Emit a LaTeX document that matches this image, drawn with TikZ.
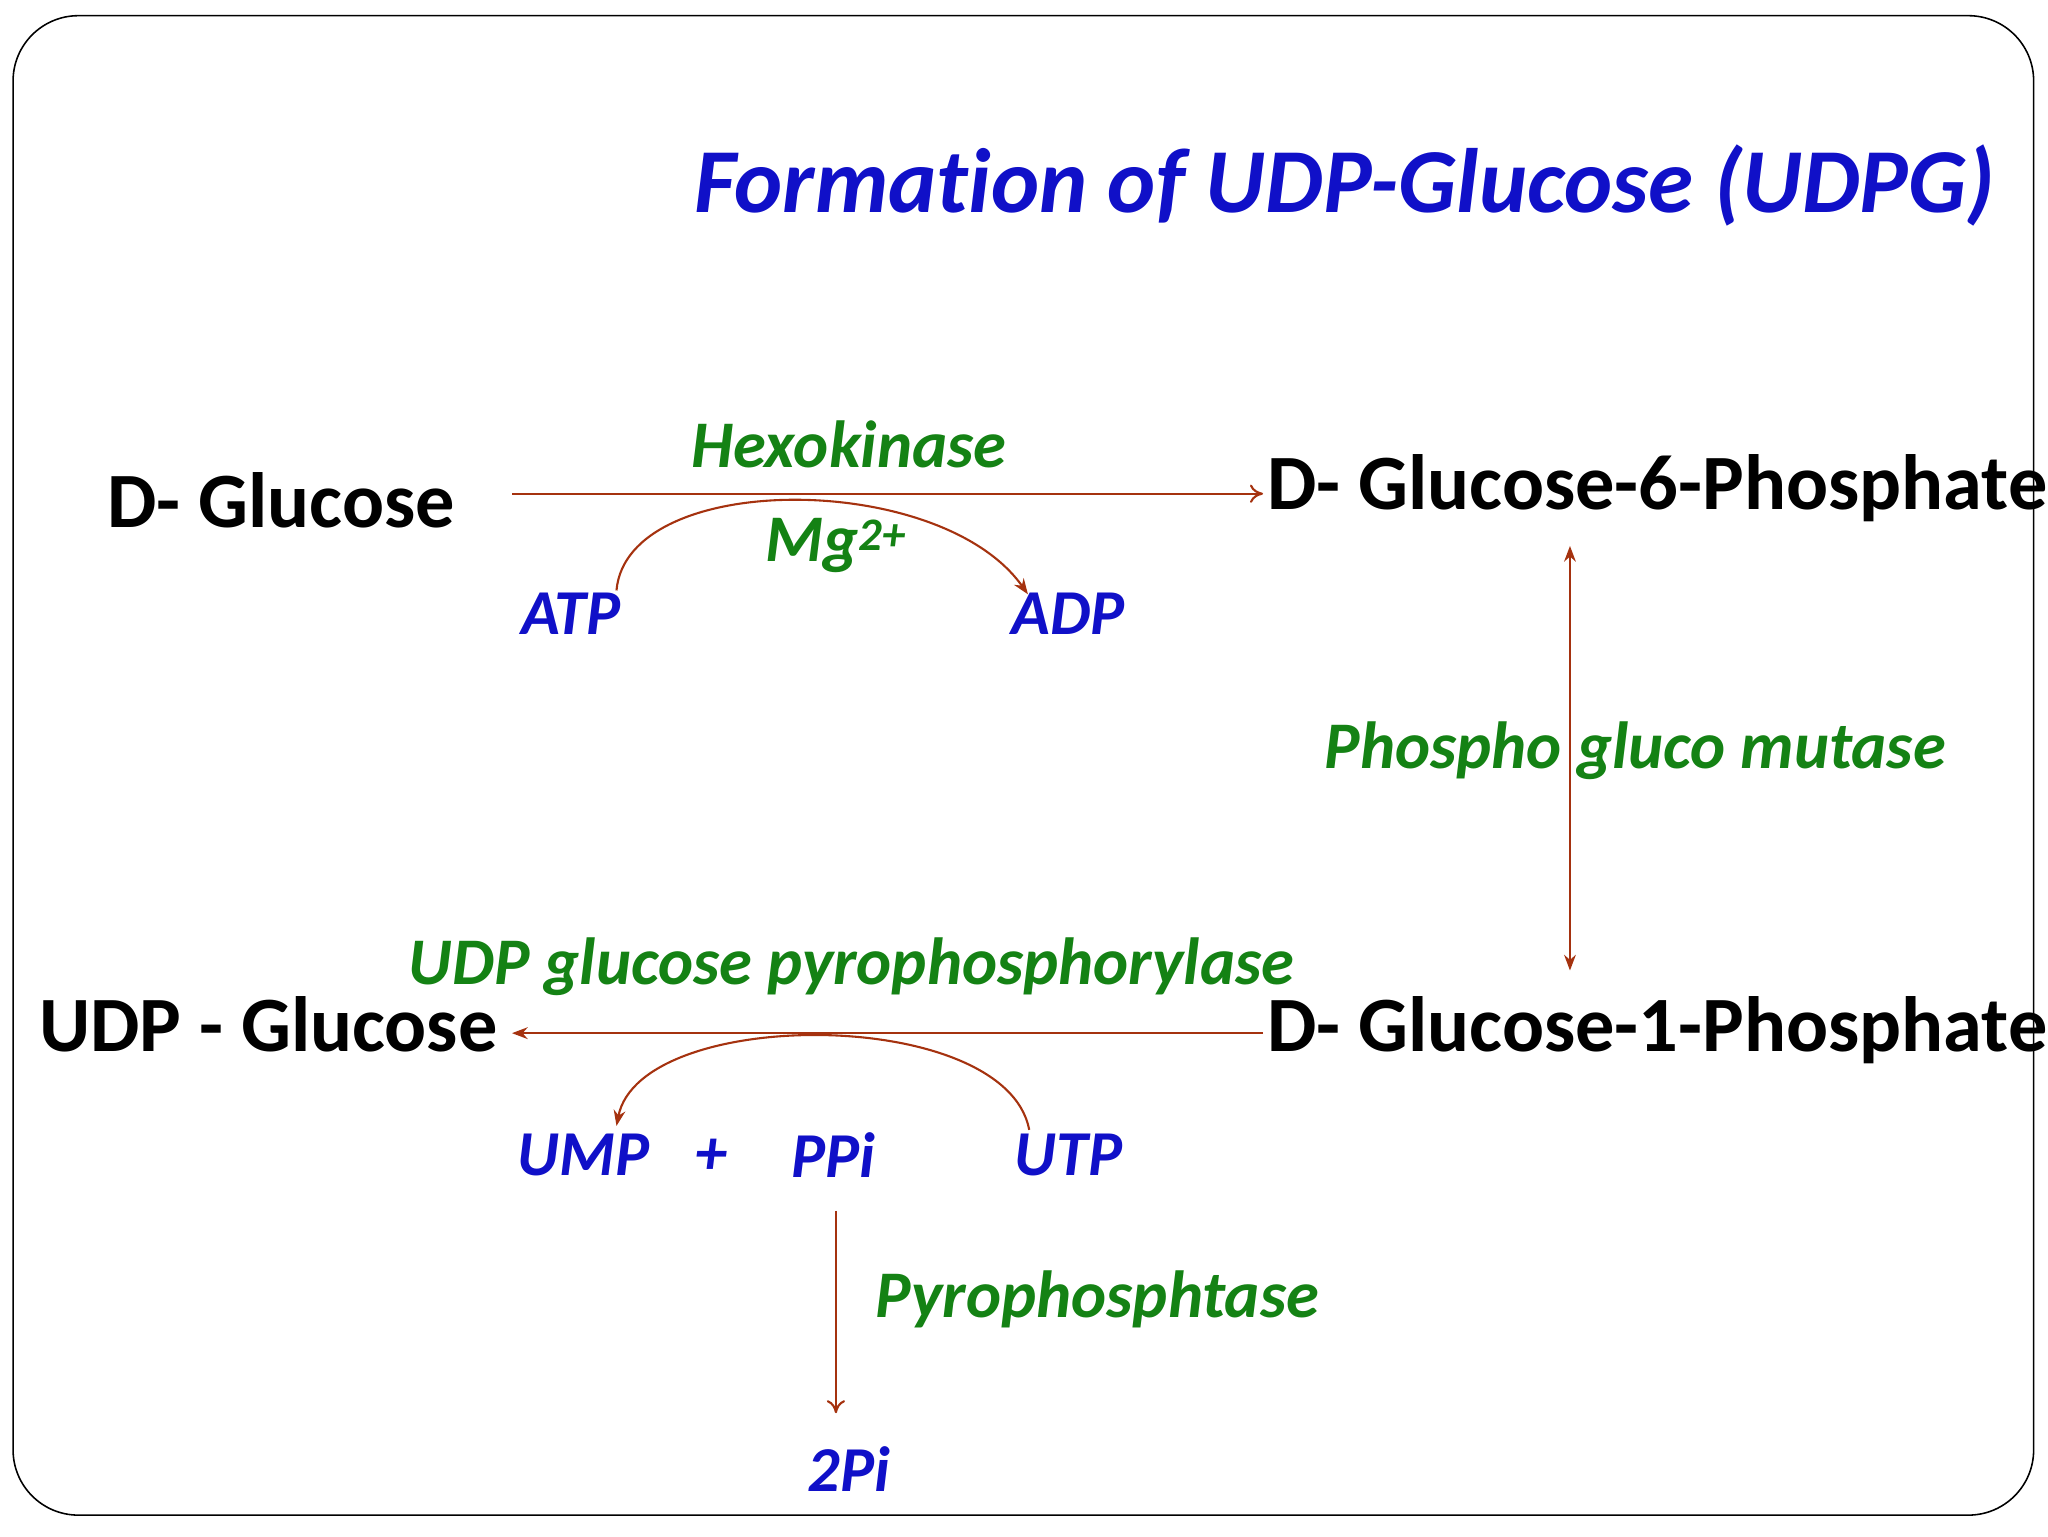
\documentclass[tikz,border=0pt]{standalone}
\usepackage{fontspec}
\setmainfont[Ligatures={NoCommon,NoRare,NoContextual}]{Carlito}
\usetikzlibrary{arrows.meta}
\definecolor{tblue}{RGB}{16,16,200}
\definecolor{tgreen}{RGB}{20,130,20}
\definecolor{tbrown}{RGB}{165,50,15}
\tikzset{
 chem/.style={font=\fontsize{60}{64}\selectfont\bfseries,text=black,inner sep=0pt},
 enz/.style={font=\fontsize{51}{55}\selectfont\bfseries\itshape,text=tgreen,inner sep=0pt},
 mol/.style={font=\fontsize{49}{52}\selectfont\bfseries\itshape,text=tblue,inner sep=0pt},
 arr/.style={draw=tbrown,line width=1.6pt,-{To[length=10pt,width=14pt]}},
 arrs/.style={draw=tbrown,line width=1.6pt,-{Stealth[length=12pt,width=9pt]}},
}
\begin{document}
\begin{tikzpicture}[x=1pt,y=-1pt]
\useasboundingbox (0,0) rectangle (1568,1176);
\fill[white] (0,0) rectangle (1568,1176);
\draw[line width=1.2pt,rounded corners=50pt] (10,12) rectangle (1557,1160);
\node[font=\fontsize{70}{74}\selectfont\bfseries\itshape,text=tblue,anchor=base east,inner sep=0pt] (title) at (1528,163) {Formation of UDP-Glucose (UDPG)};
\node[chem,anchor=base west] (glc) at (82,404) {D- Glucose};
\node[chem,anchor=base west] (g6p) at (970,390) {D- Glucose-6-Phosphate};
\node[chem,anchor=base west] (g1p) at (970,805) {D- Glucose-1-Phosphate};
\node[chem,anchor=base west] (udpg) at (30,805) {UDP - Glucose};
\node[enz] (hex) at (650,340) {Hexokinase};
\node[enz] (mg) at (640,418) {Mg\textsuperscript{2+}};
\node[mol] (atp) at (437,470) {ATP};
\node[mol] (adp) at (818,470) {ADP};
\node[enz] (pgm) at (1252,575) {Phospho gluco mutase};
\node[enz] (ugp) at (652,740) {UDP glucose pyrophosphorylase};
\node[mol] (ump) at (447,884) {UMP};
\node[mol] (plus) at (545,886) {+};
\node[mol] (ppi) at (638,884) {PPi};
\node[mol] (utp) at (818,884) {UTP};
\node[enz,anchor=west] (pyr) at (670,995) {Pyrophosphtase};
\node[mol] (pi) at (650,1125) {2Pi};
\coordinate (a1) at (392,378); \coordinate (a2) at (967,378);
\draw[arr] (a1) -- (a2);
\coordinate (c1) at (472,452); \coordinate (c2) at (787,455);
\draw[arrs] (c1) .. controls (480,360) and (720,360) .. (c2);
\coordinate (v1) at (1202,418); \coordinate (v2) at (1202,743);
\draw[draw=tbrown,line width=1.6pt,{Stealth[length=12pt,width=9pt]}-{Stealth[length=12pt,width=9pt]}] (v1) -- (v2);
\coordinate (b1) at (967,791); \coordinate (b2) at (392,791);
\draw[arrs] (b1) -- (b2);
\coordinate (d1) at (788,865); \coordinate (d2) at (472,862);
\draw[arrs] (d1) .. controls (770,770) and (490,770) .. (d2);
\coordinate (e1) at (640,927); \coordinate (e2) at (640,1082);
\draw[arr] (e1) -- (e2);
\end{tikzpicture}
\end{document}
